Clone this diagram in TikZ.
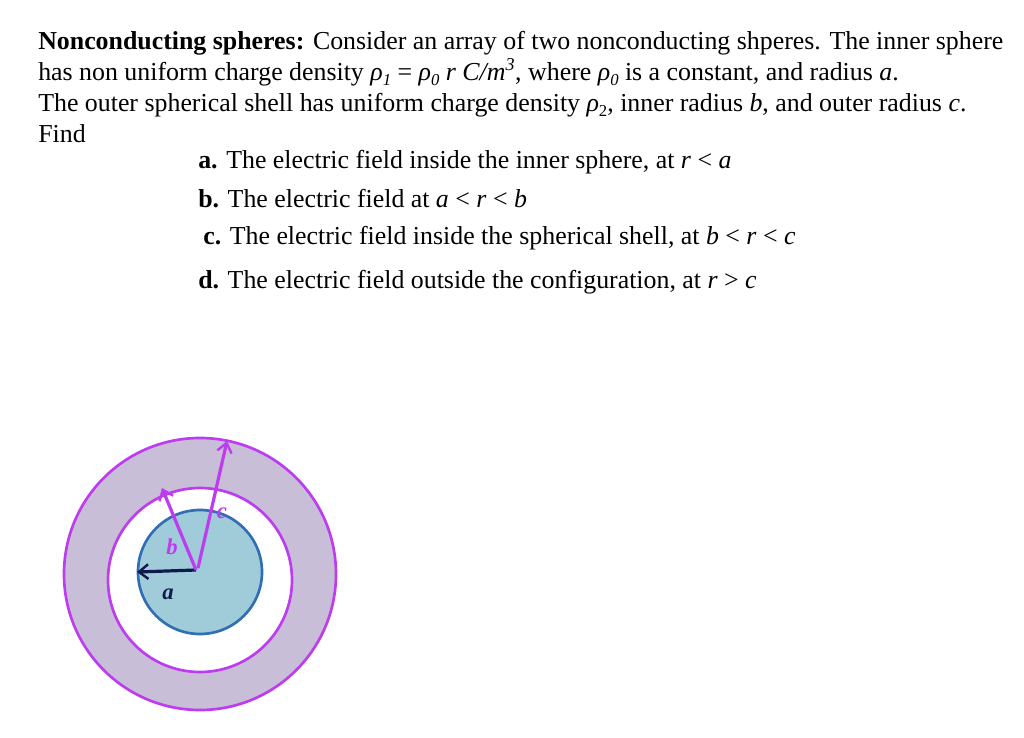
\documentclass[tikz,border=0pt]{standalone}
\usepackage{fontspec}
\setmainfont{Liberation Serif}
\usetikzlibrary{arrows.meta}
\definecolor{pur}{RGB}{190,60,240}
\definecolor{shell}{RGB}{200,190,215}
\definecolor{core}{RGB}{160,204,218}
\definecolor{coreb}{RGB}{50,110,180}
\definecolor{navy}{RGB}{15,25,75}
\newcommand{\rh}[1]{\textit{ρ}\raisebox{-0.4ex}{\fontsize{12.5}{13}\selectfont\textit{#1}}}
\begin{document}
\begin{tikzpicture}[x=0.75pt,y=-0.75pt,
  txt/.style={anchor=base west,inner sep=0,font=\fontsize{19.4}{22}\selectfont},
  arr/.style={line width=2.4pt,-{Straight Barb[length=7pt,width=11pt,line width=1.8pt]}},
  lbl/.style={font=\fontsize{17}{19}\selectfont\bfseries\itshape}]
\useasboundingbox (0,0) rectangle (1024,738);
\node[txt] (l1) at (38,50) {\textbf{Nonconducting spheres:} Consider an array of two nonconducting shperes. The inner sphere};
\node[txt] (l2) at (38,81) {has non uniform charge density \rh{1} = \rh{0} \textit{r C/m}\textsuperscript{\textit{3}}, where \rh{0} is a constant, and radius \textit{a}.};
\node[txt] (l3) at (38,112) {The outer spherical shell has uniform charge density \textit{ρ}\raisebox{-0.4ex}{\fontsize{12.5}{13}\selectfont 2}, inner radius \textit{b}, and outer radius \textit{c}.};
\node[txt] (l4) at (38,143) {Find};
\node[txt] (qa) at (198,169) {\textbf{a.} The electric field inside the inner sphere, at \textit{r} < \textit{a}};
\node[txt] (qb) at (198,207) {\textbf{b.} The electric field at \textit{a} < \textit{r} < \textit{b}};
\node[txt] (qc) at (203,244) {\textbf{c.} The electric field inside the spherical shell, at \textit{b} < \textit{r} < \textit{c}};
\node[txt] (qd) at (198,288) {\textbf{d.} The electric field outside the configuration, at \textit{r} > \textit{c}};
\filldraw[fill=shell,draw=pur,line width=2pt] (200,574) circle[radius=136];
\filldraw[fill=white,draw=pur,line width=2pt] (200,580) circle[radius=92];
\filldraw[fill=core,draw=coreb,line width=2pt] (200,572) circle[radius=62];
\coordinate (o) at (196,570);
\coordinate (o2) at (198,568);
\coordinate (ea) at (137,572);
\coordinate (eb) at (162,488);
\coordinate (ec) at (227,441);
\draw[arr,navy] (o) -- (ea);
\draw[arr,pur] (o) -- (eb);
\draw[arr,pur] (o2) -- (ec);
\node[lbl,text=pur] (lb) at (172,547) {b};
\node[lbl,text=pur] (lc) at (222,513) {c};
\node[lbl,text=navy] (la) at (168,594) {a};
\end{tikzpicture}
\end{document}
